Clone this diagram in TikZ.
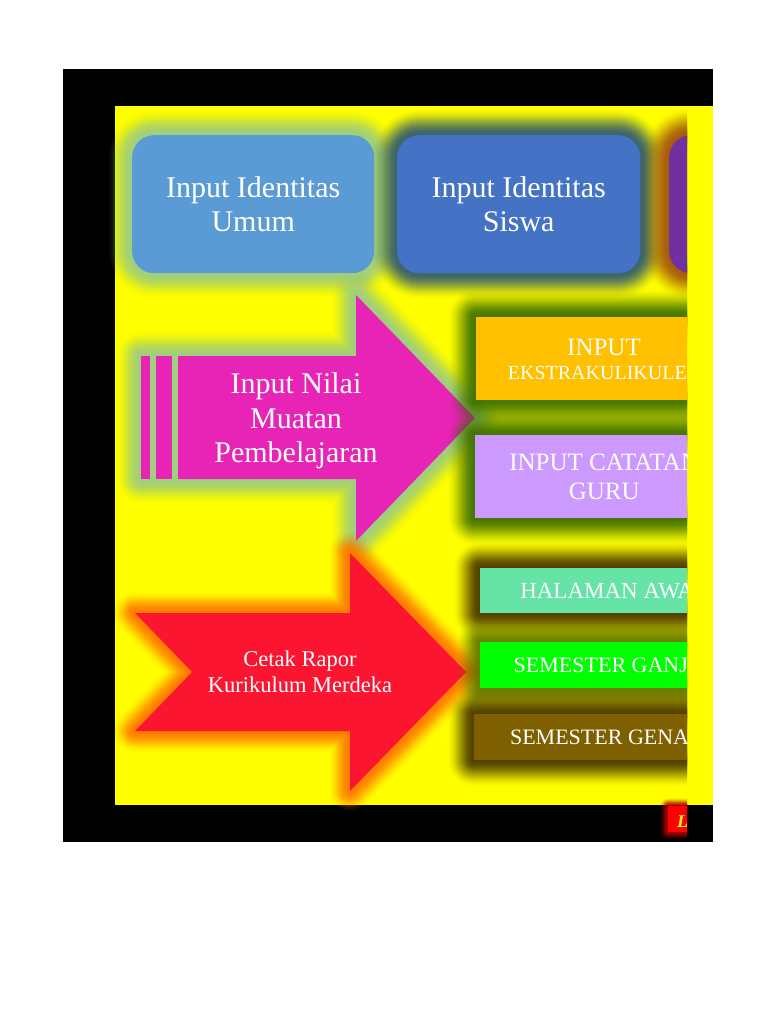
\documentclass[tikz,border=0pt]{standalone}
\usepackage{fontspec}
\setmainfont{Liberation Serif}
\definecolor{cYellow}{RGB}{255,255,0}
\definecolor{cBlue}{HTML}{5B9BD5}
\definecolor{cBlueB}{HTML}{4472C4}
\definecolor{cPurple}{HTML}{7030A0}
\definecolor{cPink}{HTML}{E824B6}
\definecolor{cRed}{HTML}{FC1530}
\definecolor{cOrange}{HTML}{FFC000}
\definecolor{cLav}{HTML}{CC99FF}
\definecolor{cTeal}{HTML}{66E3A6}
\definecolor{cBrown}{HTML}{7F6000}
\definecolor{cGreen}{RGB}{0,255,0}
\definecolor{cBtn}{RGB}{255,0,0}
\definecolor{gLight}{HTML}{A0D080}
\definecolor{gSlate}{HTML}{3A6470}
\definecolor{gAmber}{HTML}{A85A10}
\definecolor{gGreen}{HTML}{3C7000}
\definecolor{gBrown}{HTML}{4A3600}
\definecolor{gMoss}{HTML}{5A7000}
\definecolor{gFlame}{HTML}{FF7C00}
\definecolor{gBtn}{HTML}{B00000}
% #1 path, #2 colour, #3 reach in px (also number of layers), #4 alpha at the shape's edge
\newcommand{\glowpath}[4]{%
  \foreach \gk in {1,...,#3}{%
    \pgfmathsetmacro{\gt}{\gk/#3}%
    \pgfmathsetmacro{\gp}{(\gk-1)/#3}%
    \pgfmathsetmacro{\ga}{#4*\gt*\gt*(3-2*\gt)}%
    \pgfmathsetmacro{\gb}{#4*\gp*\gp*(3-2*\gp)}%
    \pgfmathsetmacro{\gop}{(\ga-\gb)/(1-\gb)}%
    \pgfmathsetmacro{\gw}{2*(#3-\gk+1)}%
    \draw[draw=#2,line width=\gw pt,draw opacity=\gop,line join=round] #1;}}
\tikzset{
  x=1pt,y=-1pt,
  txt/.style={text=white,align=center,inner sep=0pt},
  roundbox/.style={txt,rounded corners=22pt,minimum width=242pt,minimum height=138pt,anchor=north west},
  flatbox/.style={txt,anchor=north west}
}
\begin{document}
\begin{tikzpicture}
\useasboundingbox (0,0) rectangle (768,1024);
\fill[white] (0,0) rectangle (768,1024);
\fill[black] (63,69) rectangle (713,842);
\fill[cYellow] (115,106) rectangle (713,805);
\begin{scope}
\clip (0,0) rectangle (687,1024);
% top boxes
\glowpath{[rounded corners=22pt] (132,135) rectangle (374,273)}{gLight}{25}{.98}
\glowpath{[rounded corners=22pt] (397,135) rectangle (640,273)}{gSlate}{26}{.97}
\glowpath{[rounded corners=22pt] (669,135) rectangle (900,273)}{gAmber}{28}{.97}
\node[roundbox,fill=cBlue,font=\fontsize{30}{34.5}\selectfont] (umum) at (132,135) {Input Identitas\\Umum};
\node[roundbox,fill=cBlueB,minimum width=243pt,font=\fontsize{30}{34.5}\selectfont] (siswa) at (397,135) {Input Identitas\\Siswa};
\node[roundbox,fill=cPurple,minimum width=231pt] (ungu) at (669,135) {};
% pink arrow
\fill[gLight] (141,356) rectangle (178,479);
\glowpath{(141,356) -- (356,356) -- (356,295) -- (475,418) -- (356,541) -- (356,479) -- (141,479) -- cycle}{gLight}{25}{.98}
\fill[cPink] (141,356) rectangle (150,479);
\fill[cPink] (156,356) rectangle (172,479);
\fill[cPink] (178,356) -- (356,356) -- (356,295) -- (475,418) -- (356,541) -- (356,479) -- (178,479) -- cycle;
\node[txt,font=\fontsize{30}{34.5}\selectfont] (nilai) at (296,421) {Input Nilai\\Muatan\\Pembelajaran};
% red arrow
\glowpath{(135,613) -- (350,613) -- (350,553) -- (466,672) -- (350,791) -- (350,731) -- (135,731) -- (192,672) -- cycle}{gFlame}{22}{.98}
\fill[cRed] (135,613) -- (350,613) -- (350,553) -- (466,672) -- (350,791) -- (350,731) -- (135,731) -- (192,672) -- cycle;
\node[txt,font=\fontsize{22.5}{26}\selectfont] (cetak) at (300,671.5) {Cetak Rapor\\Kurikulum Merdeka};
% right boxes: glows fall over the arrow tips
\glowpath{(476,317) rectangle (900,400)}{gGreen}{28}{.92}
\glowpath{(475,435) rectangle (900,518)}{gGreen}{28}{.92}
\glowpath{(480,568) rectangle (900,613)}{gBrown}{27}{.92}
\glowpath{(480,642) rectangle (900,688)}{gMoss}{24}{.85}
\glowpath{(474,714) rectangle (900,760)}{gBrown}{27}{.92}
\node[flatbox,fill=cOrange,minimum width=256pt,minimum height=83pt] (ekstra) at (476,317) {};
\node[txt,font=\fontsize{25}{29}\selectfont] (ekstraa) at (604,347) {INPUT};
\node[txt,font=\fontsize{20}{24}\selectfont] (ekstrab) at (604,373) {EKSTRAKULIKULER};
\node[flatbox,fill=cLav,minimum width=258pt,minimum height=83pt,font=\fontsize{25}{29}\selectfont] (catatan) at (475,435) {INPUT CATATAN\\GURU};
\node[flatbox,fill=cTeal,minimum width=268pt,minimum height=45pt,font=\fontsize{23}{27}\selectfont] (awal) at (480,568) {HALAMAN AWAL};
\node[flatbox,fill=cGreen,minimum width=262pt,minimum height=46pt,font=\fontsize{22}{26}\selectfont] (ganjil) at (480,642) {SEMESTER GANJIL};
\node[flatbox,fill=cBrown,minimum width=263pt,minimum height=46pt,font=\fontsize{22}{26}\selectfont] (genap) at (474,714) {SEMESTER GENAP};
% bottom button
\glowpath{(668,806) rectangle (720,832)}{gBtn}{8}{.9}
\fill[cBtn] (668,806) rectangle (720,832);
\node[anchor=west,inner sep=0pt,text=cYellow,font=\bfseries\itshape\fontsize{18}{22}\selectfont] (lbtn) at (677,822) {L};
\end{scope}
\end{tikzpicture}
\end{document}
